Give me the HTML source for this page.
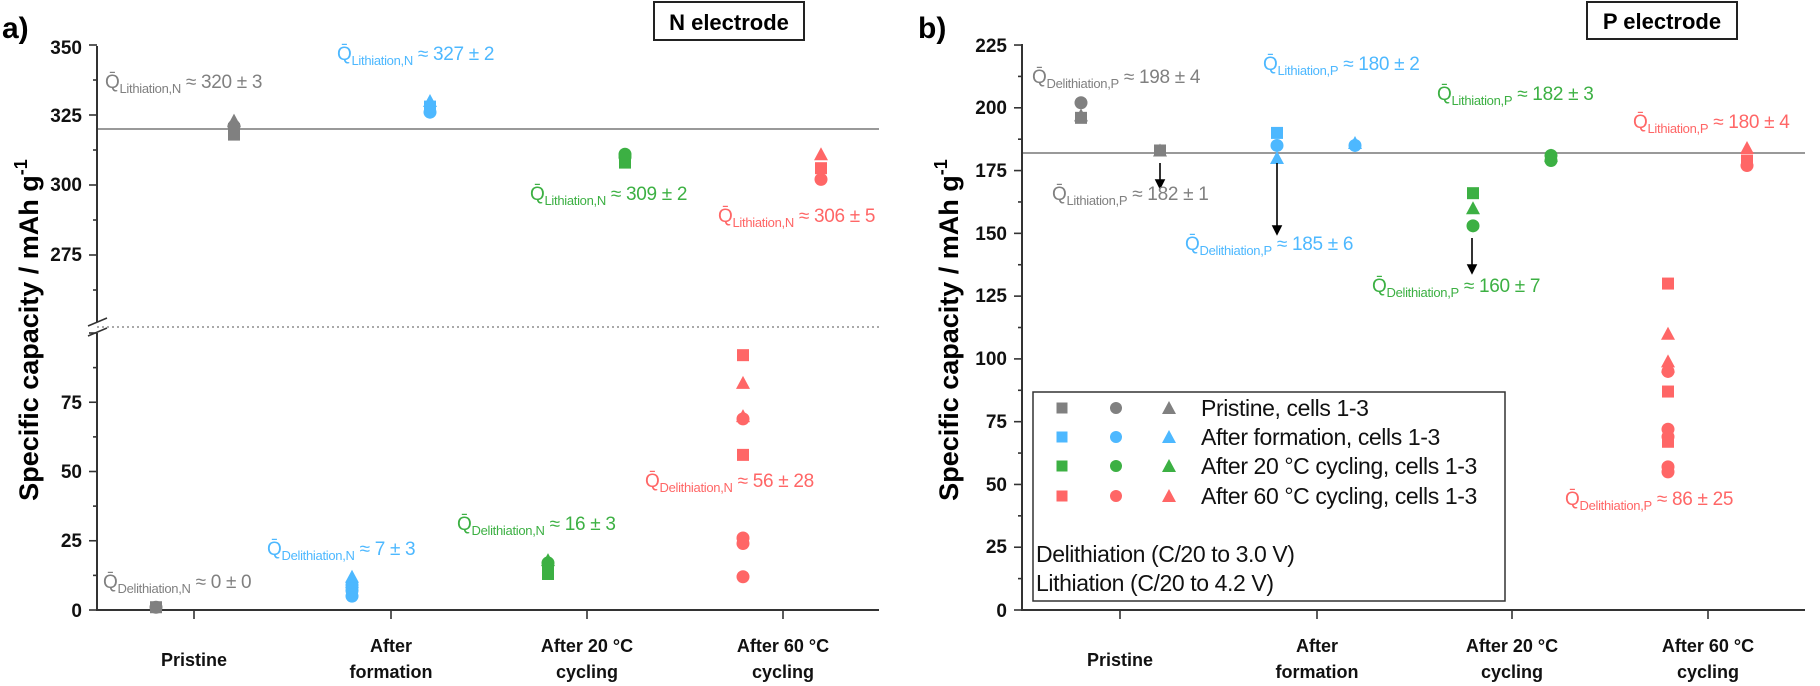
<!DOCTYPE html>
<html><head><meta charset="utf-8"><style>
html,body{margin:0;padding:0;background:#fff;}
svg{display:block;font-family:"Liberation Sans",Arial,sans-serif;}
.ax{stroke:#333;stroke-width:2;fill:none}
.tk{font-weight:bold;font-size:19px;fill:#111}
.xl{font-weight:bold;font-size:18px;fill:#111}
.lb{font-size:19px;letter-spacing:-0.3px}
.sb{font-size:13px}
</style></head><body>
<svg id="s" width="1820" height="686" viewBox="0 0 1820 686" xmlns="http://www.w3.org/2000/svg">
<text x="2" y="38" font-size="30" font-weight="bold">a)</text>
<text x="918" y="38" font-size="30" font-weight="bold">b)</text>
<rect x="654" y="2" width="150" height="38" fill="none" stroke="#222" stroke-width="2"/>
<text x="729" y="30" text-anchor="middle" font-size="22" font-weight="bold">N electrode</text>
<rect x="1587" y="2" width="150" height="37" fill="none" stroke="#222" stroke-width="2"/>
<text x="1662" y="29" text-anchor="middle" font-size="22" font-weight="bold">P electrode</text>
<text transform="translate(38,330) rotate(-90)" text-anchor="middle" font-size="27" font-weight="bold">Specific capacity / mAh g<tspan dy="-11" font-size="18">-1</tspan></text>
<text transform="translate(958,330) rotate(-90)" text-anchor="middle" font-size="27" font-weight="bold">Specific capacity / mAh g<tspan dy="-11" font-size="18">-1</tspan></text>
<line x1="97" y1="129" x2="879" y2="129" stroke="#999" stroke-width="2"/>
<line x1="97" y1="327" x2="879" y2="327" stroke="#777" stroke-width="1.3" stroke-dasharray="2,3"/>
<line x1="1022" y1="153" x2="1805" y2="153" stroke="#999" stroke-width="2"/>
<path class="ax" d="M97 46 V322 M97 333 V610 H879"/>
<line x1="88" y1="326" x2="107" y2="318" stroke="#333" stroke-width="1.5"/>
<line x1="88" y1="336" x2="107" y2="328" stroke="#333" stroke-width="1.5"/>
<path class="ax" d="M1022 44 V610 H1805"/>
<g id="ticks"></g>
<g class="tk" text-anchor="end">
<text x="82" y="54">350</text><text x="82" y="122">325</text><text x="82" y="191">300</text><text x="82" y="261">275</text>
<text x="82" y="409">75</text><text x="82" y="478">50</text><text x="82" y="547">25</text><text x="82" y="617">0</text>
</g>
<g class="tk" text-anchor="end">
<text x="1007" y="52">225</text><text x="1007" y="114">200</text><text x="1007" y="177">175</text><text x="1007" y="240">150</text>
<text x="1007" y="302">125</text><text x="1007" y="365">100</text><text x="1007" y="428">75</text><text x="1007" y="491">50</text>
<text x="1007" y="553">25</text><text x="1007" y="617">0</text>
</g>
<g class="xl" text-anchor="middle">
<text x="194" y="666">Pristine</text>
<text x="391" y="652">After</text><text x="391" y="678">formation</text>
<text x="587" y="652">After 20 °C</text><text x="587" y="678">cycling</text>
<text x="783" y="652">After 60 °C</text><text x="783" y="678">cycling</text>
<text x="1120" y="666">Pristine</text>
<text x="1317" y="652">After</text><text x="1317" y="678">formation</text>
<text x="1512" y="652">After 20 °C</text><text x="1512" y="678">cycling</text>
<text x="1708" y="652">After 60 °C</text><text x="1708" y="678">cycling</text>
</g>
<g id="pts"></g>
<g stroke="#000" stroke-width="1.6" fill="#000">
<line x1="1160" y1="163" x2="1160" y2="182"/><path d="M1156 180 L1164 180 L1160 188Z"/>
<line x1="1277" y1="163" x2="1277" y2="228"/><path d="M1273 226 L1281 226 L1277 234Z"/>
<line x1="1472" y1="238" x2="1472" y2="267"/><path d="M1468 265 L1476 265 L1472 273Z"/>
</g>
<g class="lb">
<text x="105" y="88" fill="#808080">Q̄<tspan class="sb" dy="5">Lithiation,N</tspan><tspan dy="-5"> ≈ 320 ± 3</tspan></text>
<text x="337" y="60" fill="#4db8ff">Q̄<tspan class="sb" dy="5">Lithiation,N</tspan><tspan dy="-5"> ≈ 327 ± 2</tspan></text>
<text x="530" y="200" fill="#3cb043">Q̄<tspan class="sb" dy="5">Lithiation,N</tspan><tspan dy="-5"> ≈ 309 ± 2</tspan></text>
<text x="718" y="222" fill="#ff6666">Q̄<tspan class="sb" dy="5">Lithiation,N</tspan><tspan dy="-5"> ≈ 306 ± 5</tspan></text>
<text x="103" y="588" fill="#808080">Q̄<tspan class="sb" dy="5">Delithiation,N</tspan><tspan dy="-5"> ≈ 0 ± 0</tspan></text>
<text x="267" y="555" fill="#4db8ff">Q̄<tspan class="sb" dy="5">Delithiation,N</tspan><tspan dy="-5"> ≈ 7 ± 3</tspan></text>
<text x="457" y="530" fill="#3cb043">Q̄<tspan class="sb" dy="5">Delithiation,N</tspan><tspan dy="-5"> ≈ 16 ± 3</tspan></text>
<text x="645" y="487" fill="#ff6666">Q̄<tspan class="sb" dy="5">Delithiation,N</tspan><tspan dy="-5"> ≈ 56 ± 28</tspan></text>
<text x="1032" y="83" fill="#808080">Q̄<tspan class="sb" dy="5">Delithiation,P</tspan><tspan dy="-5"> ≈ 198 ± 4</tspan></text>
<text x="1052" y="200" fill="#808080">Q̄<tspan class="sb" dy="5">Lithiation,P</tspan><tspan dy="-5"> ≈ 182 ± 1</tspan></text>
<text x="1263" y="70" fill="#4db8ff">Q̄<tspan class="sb" dy="5">Lithiation,P</tspan><tspan dy="-5"> ≈ 180 ± 2</tspan></text>
<text x="1185" y="250" fill="#4db8ff">Q̄<tspan class="sb" dy="5">Delithiation,P</tspan><tspan dy="-5"> ≈ 185 ± 6</tspan></text>
<text x="1437" y="100" fill="#3cb043">Q̄<tspan class="sb" dy="5">Lithiation,P</tspan><tspan dy="-5"> ≈ 182 ± 3</tspan></text>
<text x="1372" y="292" fill="#3cb043">Q̄<tspan class="sb" dy="5">Delithiation,P</tspan><tspan dy="-5"> ≈ 160 ± 7</tspan></text>
<text x="1633" y="128" fill="#ff6666">Q̄<tspan class="sb" dy="5">Lithiation,P</tspan><tspan dy="-5"> ≈ 180 ± 4</tspan></text>
<text x="1565" y="505" fill="#ff6666">Q̄<tspan class="sb" dy="5">Delithiation,P</tspan><tspan dy="-5"> ≈ 86 ± 25</tspan></text>
</g>
<rect x="1033" y="392" width="472" height="209" fill="#fff" stroke="#333" stroke-width="1.5"/>
<g font-size="23" fill="#111" letter-spacing="-0.4">
<text x="1201" y="416">Pristine, cells 1-3</text>
<text x="1201" y="445">After formation, cells 1-3</text>
<text x="1201" y="474">After 20 °C cycling, cells 1-3</text>
<text x="1201" y="504">After 60 °C cycling, cells 1-3</text>
<text x="1036" y="562">Delithiation (C/20 to 3.0 V)</text>
<text x="1036" y="591">Lithiation (C/20 to 4.2 V)</text>
</g>
<g id="leg"></g>
</svg>
<script>
var NS="http://www.w3.org/2000/svg";
function el(p,t,a){var e=document.createElementNS(NS,t);for(var k in a)e.setAttribute(k,a[k]);p.appendChild(e);return e;}
var T=document.getElementById("ticks"),P=document.getElementById("pts"),L=document.getElementById("leg");
function tk(x,y,len){el(T,"line",{x1:x-len,y1:y,x2:x,y2:y,stroke:"#333","stroke-width":1.6});}
function yU(v){return 129-(v-320)*2.8;} function yL(v){return 610-v*2.77;}
for(var v=262.5;v<=350;v+=12.5){tk(97,yU(v),v%25==0?8:4);}
for(var v=0;v<=100;v+=12.5){tk(97,yL(v),v%25==0?8:4);}
function yR(v){return 610-v*2.511;}
for(var v=0;v<=225;v+=12.5){tk(1022,yR(v),v%25==0?8:4);}
[194,391,587,783,1120,1317,1512,1708].forEach(function(x){el(T,"line",{x1:x,y1:610,x2:x,y2:619,stroke:"#333","stroke-width":1.6});});
var C={g:"#808080",b:"#4db8ff",n:"#3cb043",r:"#ff6666"};
function mk(par,s,x,y,c,r){r=r||6;
 if(s=="s")el(par,"rect",{x:x-r,y:y-r,width:2*r,height:2*r,fill:c});
 else if(s=="c")el(par,"circle",{cx:x,cy:y,r:r+0.5,fill:c});
 else el(par,"path",{d:"M"+x+" "+(y-r-1)+"L"+(x+r+1)+" "+(y+r)+"L"+(x-r-1)+" "+(y+r)+"Z",fill:c});}
function pts(x,c,f,list){list.forEach(function(p){mk(P,p[0],x,f(p[1]),c);});}
pts(156,C.g,yL,[["s",1],["c",1]]);
pts(234,C.g,yU,[["s",318],["s",320],["c",321],["t",323]]);
pts(352,C.b,yL,[["c",5],["c",7],["s",8],["c",9],["t",10],["t",12]]);
pts(430,C.b,yU,[["c",326],["s",328],["t",330]]);
pts(548,C.n,yL,[["s",13],["s",15],["c",17],["t",18]]);
pts(625,C.n,yU,[["s",308],["c",310],["c",311]]);
pts(743,C.r,yL,[["s",92],["t",82],["t",70],["c",69],["s",56],["c",26],["c",24],["c",12]]);
pts(821,C.r,yU,[["t",311],["s",306],["c",302]]);
pts(1081,C.g,yR,[["s",196],["t",197],["c",202]]);
pts(1160,C.g,yR,[["s",183],["t",183]]);
pts(1277,C.b,yR,[["s",190],["c",185],["t",180]]);
pts(1355,C.b,yR,[["c",185],["t",186]]);
pts(1473,C.n,yR,[["s",166],["t",160],["c",153]]);
pts(1551,C.n,yR,[["c",179],["c",181],["t",181]]);
pts(1668,C.r,yR,[["s",130],["t",110],["t",99],["t",97],["c",95],["s",87],["c",72],["c",69],["s",67],["c",57],["c",55]]);
pts(1747,C.r,yR,[["t",184],["s",179],["c",177]]);
[[408,C.g],[437,C.b],[466,C.n],[496,C.r]].forEach(function(r){mk(L,"s",1062,r[0],r[1],5.5);mk(L,"c",1116,r[0],r[1],5.5);mk(L,"t",1169,r[0],r[1],6);});
</script>
</body></html>
